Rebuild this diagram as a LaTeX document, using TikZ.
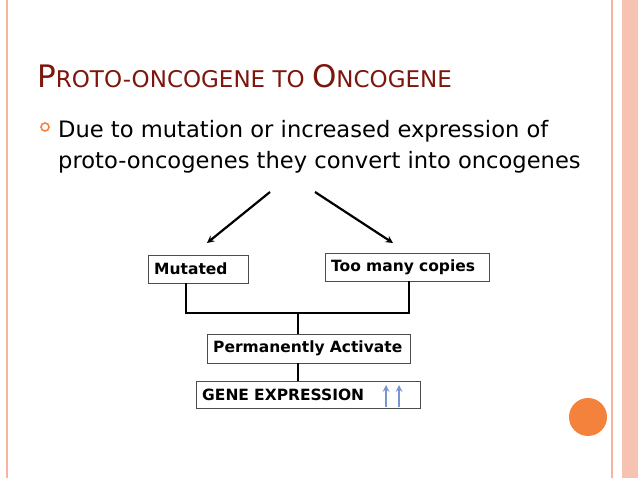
\documentclass[tikz,border=0pt]{standalone}
\usepackage{fontspec}
\setmainfont{DejaVu Sans}
\usetikzlibrary{positioning}
\definecolor{salmon}{RGB}{244,180,160}
\definecolor{titlered}{RGB}{125,22,12}
\definecolor{dotorange}{RGB}{245,130,60}
\definecolor{uparrow}{RGB}{120,150,210}
\tikzset{
  box/.style={draw=black!70,rectangle,inner xsep=6pt,inner ysep=0pt,anchor=north west,font=\bfseries\fontsize{15.5}{17}\selectfont,align=left},
  link/.style={line width=2.2pt,black}
}
\begin{document}
\begin{tikzpicture}[x=1pt,y=-1pt]
\useasboundingbox (0,0) rectangle (638,478);
% slide frame
\fill[white] (0,0) rectangle (638,478);
\draw[salmon,line width=2pt] (7,0) -- (7,478);
\draw[salmon,line width=1.5pt] (612,0) -- (612,478);
\fill[salmon!80] (622,0) rectangle (638,478);
\fill[dotorange] (588,417) circle (19);
% title and bullet text
\node (title) [anchor=base west,text=titlered,inner sep=0pt] at (37,88)
  {\fontsize{31}{34}\selectfont P\fontsize{23}{26}\selectfont ROTO-ONCOGENE TO \fontsize{31}{34}\selectfont O\fontsize{23}{26}\selectfont NCOGENE};
\draw[dotorange,line width=1.6pt] (45,127) circle (4);
\node (line1) [anchor=base west,inner sep=0pt,font=\fontsize{22.6}{26}\selectfont] at (58,138) {Due to mutation or increased expression of};
\node (line2) [anchor=base west,inner sep=0pt,font=\fontsize{22.6}{26}\selectfont] at (58,169) {proto-oncogenes they convert into oncogenes};
% arrows
\coordinate (al) at (270,192);
\coordinate (ar) at (315,192);
\coordinate (bl) at (207,243);
\coordinate (br) at (393,243);
\draw[line width=2.2pt,-stealth] (al) -- (bl);
\draw[line width=2.2pt,-stealth] (ar) -- (br);
% boxes
\node (mut) [box,text width=88,minimum height=28] at (148,255) {Mutated};
\node (copies) [box,text width=152,minimum height=28] at (325,253) {Too many copies};
\node (perm) [box,text width=191,minimum height=29] at (207,334) {Permanently Activate};
\node (gene) [box,text width=212,minimum height=27] at (196,381) {GENE EXPRESSION};
\draw[uparrow,line width=2pt,-stealth] (386,407) -- (386,385);
\draw[uparrow,line width=2pt,-stealth] (399,407) -- (399,385);
% connectors
\coordinate (join) at (298,313);
\coordinate (mutdrop) at (186,283);
\coordinate (copdrop) at (409,281);
\draw[link] (mutdrop) |- (join) -| (copdrop);
\draw[link] (join) -- (perm.north west -| join);
\draw[link] (perm.south west -| join) -- (gene.north west -| join);
\end{tikzpicture}
\end{document}
